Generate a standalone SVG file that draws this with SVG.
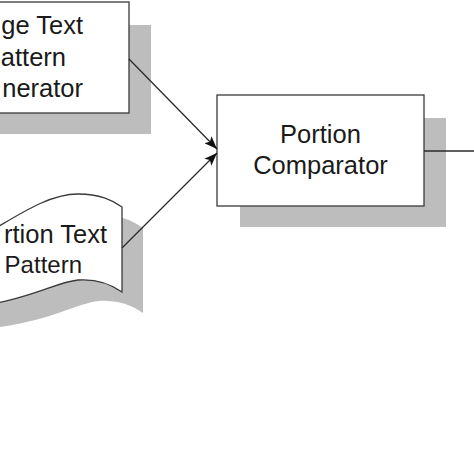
<svg xmlns="http://www.w3.org/2000/svg" width="474" height="474" viewBox="0 0 474 474">
<style>
.shadow{fill:#bdbdbd;stroke:none}
.box{fill:#ffffff;stroke:#3a3a3a;stroke-width:1.3}
.lbl{font-family:"Liberation Sans",Arial,sans-serif;font-size:25.5px;fill:#1a1a1a}
.conn{stroke:#2a2a2a;stroke-width:1.3;fill:none}
</style>
<defs>
<marker id="arr" viewBox="0 0 13 10" refX="13" refY="5" markerWidth="13" markerHeight="10" markerUnits="userSpaceOnUse" orient="auto">
<path d="M0,0 L13,5 L0,10 L3,5 z" fill="#111"/>
</marker>
<path id="wave" d="M -60 250 C -20 250, 30 194, 78 194 C 100 194, 112 200, 122 207 L 122 292 C 108 282, 92 279, 78 280 C 50 283, 25 305, -60 310 Z"/>
</defs>
<rect width="474" height="474" fill="#ffffff"/>
<g id="generator">
<rect class="shadow" x="0" y="25" width="151" height="109"/>
<rect class="box" x="-10" y="2" width="139" height="111"/>
<text class="lbl" text-anchor="end" x="83" y="34">ge Text</text>
<text class="lbl" text-anchor="end" x="66" y="66">attern</text>
<text class="lbl" text-anchor="end" x="83" y="97">nerator</text>
</g>
<g id="portion-pattern">
<use href="#wave" class="shadow" transform="translate(21,21)"/>
<use href="#wave" class="box"/>
<text class="lbl" text-anchor="end" x="107" y="243">rtion Text</text>
<text class="lbl" text-anchor="end" x="82" y="273" style="font-size:24px">Pattern</text>
</g>
<g id="comparator">
<rect class="shadow" x="240" y="118" width="206" height="109"/>
<rect class="box" x="217" y="95" width="207" height="111"/>
<text class="lbl" text-anchor="middle" x="320.5" y="143">Portion</text>
<text class="lbl" text-anchor="middle" x="320.5" y="174">Comparator</text>
</g>
<g id="connectors">
<line class="conn" x1="129" y1="59" x2="217" y2="149" marker-end="url(#arr)"/>
<line class="conn" x1="122" y1="248" x2="217" y2="153" marker-end="url(#arr)"/>
<line class="conn" x1="424" y1="151" x2="474" y2="151"/>
</g>
</svg>
